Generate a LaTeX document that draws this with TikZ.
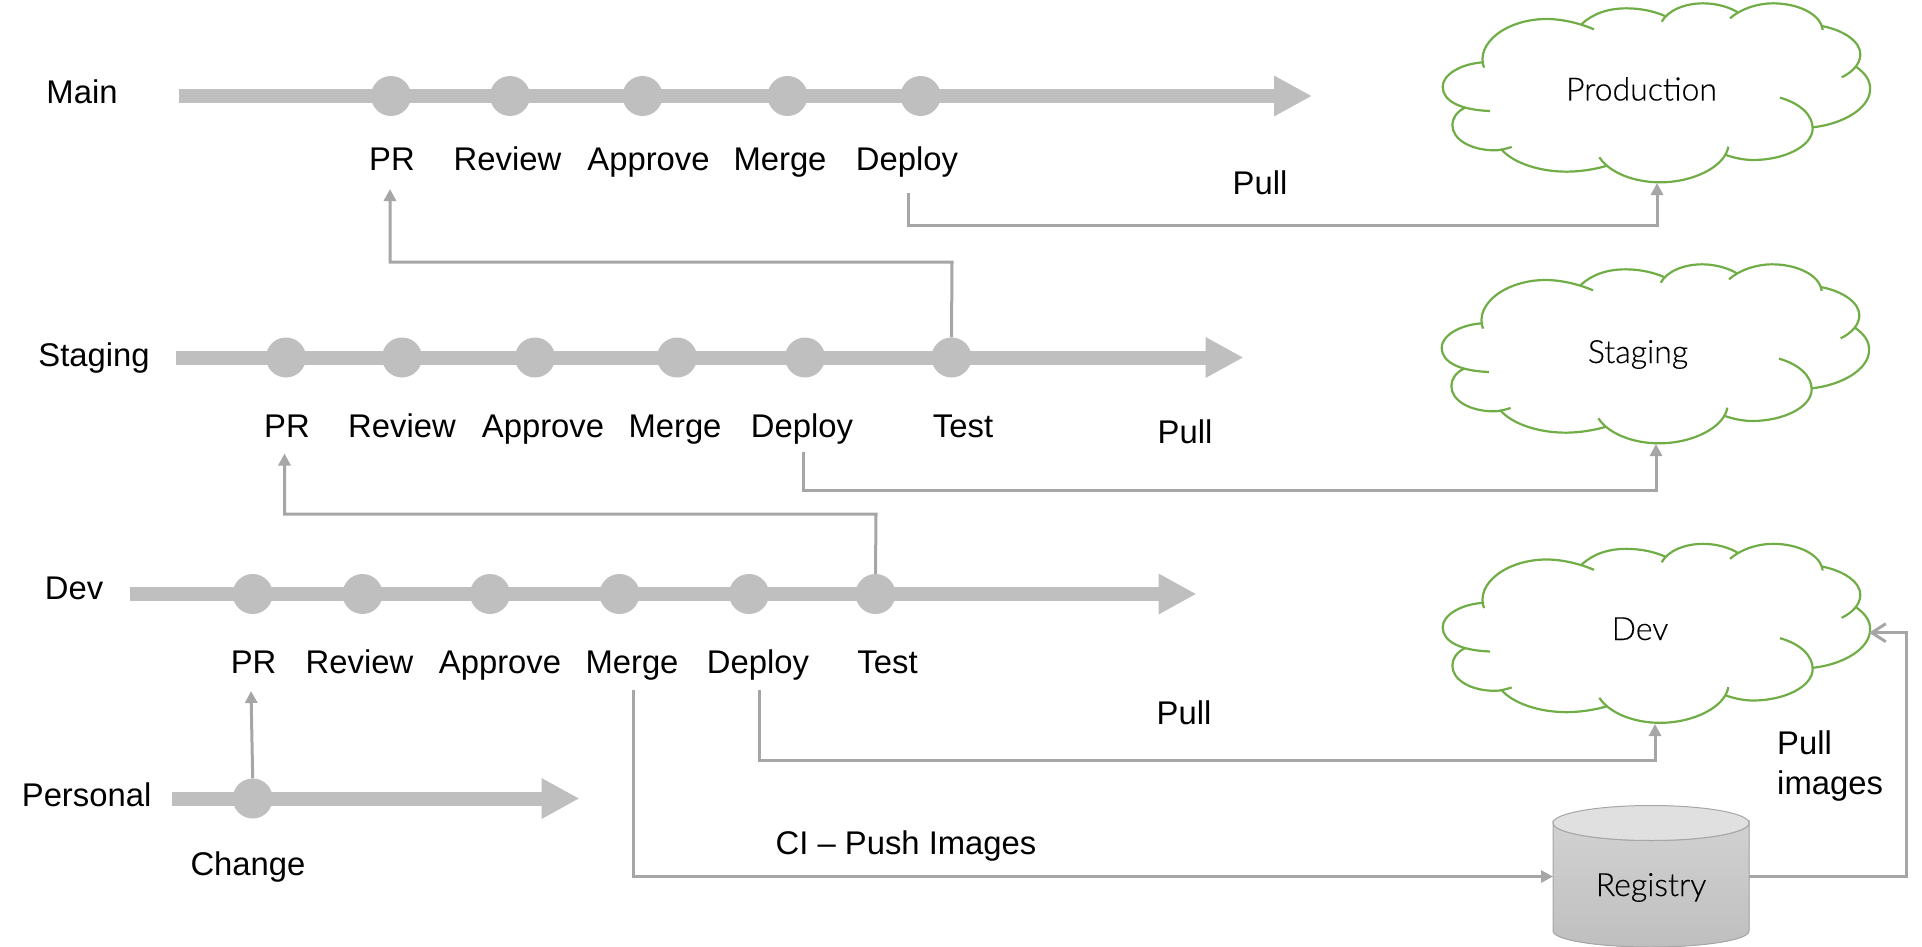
\documentclass[tikz,border=0pt]{standalone}
\usepackage{fontspec}
\setmainfont{Liberation Sans}
\newfontfamily\cloudfont[FakeBold=0.35]{Lato Light}
\usetikzlibrary{arrows.meta}
\definecolor{barc}{HTML}{BFBFBF}
\definecolor{linkc}{HTML}{A6A6A6}
\definecolor{cloudc}{HTML}{70AD47}
\tikzset{
  lanebar/.style={draw=barc,line width=14pt,-{Triangle[length=38pt,width=38pt]}},
  commit/.style={circle,fill=barc,minimum size=40pt,inner sep=0pt},
  lbl/.style={anchor=base,inner sep=0pt,font=\fontsize{32.8}{38}\selectfont},
  cloudlbl/.style={anchor=base,inner sep=0pt,font=\cloudfont\fontsize{32}{38}\selectfont},
  link/.style={draw=linkc,line width=3pt,-{Triangle[length=12pt,width=12pt]}},
  openlink/.style={draw=linkc,line width=3pt,-{Straight Barb[length=14pt,width=18pt]}},
  lobe/.style={draw=cloudc,line width=2.2pt},
}
\newcommand{\cloudlobes}{%
  \draw[lobe] (252,203) .. controls (225,130) and (320,57) .. (440,57) .. controls (490,57) and (545,72) .. (582,88);
  \draw[lobe] (545,72) .. controls (580,40) and (625,25) .. (680,25) .. controls (725,25) and (765,35) .. (795,48);
  \draw[lobe] (785,65) .. controls (805,30) and (855,10) .. (910,10) .. controls (950,10) and (990,22) .. (1015,38);
  \draw[lobe] (990,55) .. controls (1020,28) and (1070,10) .. (1120,10) .. controls (1190,10) and (1262,40) .. (1268,90);
  \draw[lobe] (1265,78) .. controls (1330,90) and (1383,125) .. (1381,165) .. controls (1380,190) and (1360,215) .. (1325,232);
  \draw[lobe] (1368,200) .. controls (1395,220) and (1412,240) .. (1410,270) .. controls (1408,325) and (1330,372) .. (1238,382);
  \draw[lobe] (1140,293) .. controls (1200,310) and (1238,345) .. (1238,385) .. controls (1238,440) and (1150,480) .. (1060,480) .. controls (1030,480) and (1000,473) .. (978,465);
  \draw[lobe] (985,440) .. controls (975,500) and (880,547) .. (780,547) .. controls (705,547) and (630,520) .. (598,472);
  \draw[lobe] (622,497) .. controls (585,508) and (540,515) .. (500,515) .. controls (420,515) and (340,490) .. (303,447);
  \draw[lobe] (335,441) .. controls (315,447) and (300,451) .. (285,451) .. controls (215,451) and (157,420) .. (157,375) .. controls (157,355) and (170,335) .. (195,323);
  \draw[lobe] (270,333) .. controls (185,330) and (128,305) .. (128,260) .. controls (128,225) and (180,192) .. (248,187);
}
\begin{document}
\begin{tikzpicture}[x=1pt,y=-1pt]
\useasboundingbox (0,0) rectangle (1922,947);
% clouds
\begin{scope}[shift={(1400,0)},x=0.33333pt,y=-0.33333pt]\cloudlobes\end{scope}
\begin{scope}[shift={(1399,261)},x=0.33333pt,y=-0.33333pt]\cloudlobes\end{scope}
\begin{scope}[shift={(1400,540.5)},x=0.33333pt,y=-0.33333pt]\cloudlobes\end{scope}
\node[cloudlbl] (cprod) at (1641.5,100.5) {Production};
\node[cloudlbl] (cstag) at (1638,363) {Staging};
\node[cloudlbl] (cdev) at (1640,640) {Dev};
% registry cylinder
\fill[top color=black!18,bottom color=barc,draw=linkc,line width=1pt]
  (1553,823) -- (1553,931) arc[start angle=180,end angle=360,x radius=98,y radius=-16] -- (1749,823)
  arc[start angle=0,end angle=180,x radius=98,y radius=17.5] -- cycle;
\filldraw[fill=black!12,draw=linkc,line width=1pt] (1651,823) ellipse[x radius=98,y radius=17.5];
\node[cloudlbl] (registry) at (1651,896) {Registry};
\coordinate (regW) at (1553,876.5);
\coordinate (regE) at (1749,876.5);
% lanes
\coordinate (ms) at (179,96); \coordinate (me) at (1312,96);
\coordinate (ss) at (175.5,357.5); \coordinate (se) at (1243.5,357.5);
\coordinate (ds) at (130,594); \coordinate (de) at (1196.5,594);
\coordinate (ps) at (172,798.5); \coordinate (pe) at (579.5,798.5);
\draw[lanebar] (ms) -- (me);
\draw[lanebar] (ss) -- (se);
\draw[lanebar] (ds) -- (de);
\draw[lanebar] (ps) -- (pe);
% commits
\foreach \n/\x in {mP/391,mR/510,mA/642.5,mM/787.5,mD/920.6}
  \node[commit] (\n) at (\x,96) {};
\foreach \n/\x in {sP/286,sR/402,sA/535,sM/677,sD/805,sT/951.5}
  \node[commit] (\n) at (\x,357.5) {};
\foreach \n/\x in {dP/252.7,dR/362.5,dA/490,dM/619.5,dD/749,dT/875.5}
  \node[commit] (\n) at (\x,594) {};
\node[commit] (pC) at (252.7,798.5) {};
% lane labels
\node[lbl] (lmain) at (82,104) {Main};
\node[lbl] (lstag) at (94,366.5) {Staging};
\node[lbl] (ldev) at (74,599) {Dev};
\node[lbl] (lpers) at (86.6,806.5) {Personal};
% step labels
\foreach \n/\x/\t in {tmP/392/PR,tmR/507.5/Review,tmA/648.5/Approve,tmM/780/Merge,tmD/907/Deploy}
  \node[lbl] (\n) at (\x,170.5) {\t};
\foreach \n/\x/\t in {tsP/287/PR,tsR/402/Review,tsA/543/Approve,tsM/675/Merge,tsD/802/Deploy,tsT/963/Test}
  \node[lbl] (\n) at (\x,437) {\t};
\foreach \n/\x/\t in {tdP/253.6/PR,tdR/359.5/Review,tdA/500/Approve,tdM/632/Merge,tdD/758/Deploy,tdT/887.5/Test}
  \node[lbl] (\n) at (\x,673.5) {\t};
\node[lbl] (tpC) at (248,875) {Change};
% link labels
\node[lbl] (pull1) at (1260,194.5) {Pull};
\node[lbl] (pull2) at (1185,443) {Pull};
\node[lbl] (pull3) at (1184,724) {Pull};
\node[lbl] (ci) at (906,854.5) {CI – Push Images};
\node[lbl,anchor=base west] (pi1) at (1777,754) {Pull};
\node[lbl,anchor=base west] (pi2) at (1777,794) {images};
% free ends
\coordinate (mDo) at (908,192.5);
\coordinate (prodIn) at (1657,183);
\coordinate (mPi) at (390,189);
\coordinate (sDo) at (803,452);
\coordinate (stagIn) at (1656,444);
\coordinate (sPi) at (284.5,453.5);
\coordinate (dDo) at (759,690);
\coordinate (devIn) at (1655,724);
\coordinate (dPi) at (251,691);
\coordinate (dMo) at (633.5,690);
\coordinate (devE) at (1869,632.7);
% connectors
\draw[link] (mDo) -- (908,225) -- (1657,225) -- (prodIn);
\draw[link] (sT.north) -- (952,262) -- (390,262) -- (mPi);
\draw[link] (sDo) -- (803,490.5) -- (1656,490.5) -- (stagIn);
\draw[link] (dT.north) -- (876,514) -- (284.5,514) -- (sPi);
\draw[link] (dDo) -- (759,760.5) -- (1655,760.5) -- (devIn);
\draw[link] (pC.north) -- (dPi);
\draw[link] (dMo) -- (633.5,876.5) -- (regW);
\draw[openlink] (regE) -- (1906,876.5) -- (1906,632.7) -- (devE);
\end{tikzpicture}
\end{document}
